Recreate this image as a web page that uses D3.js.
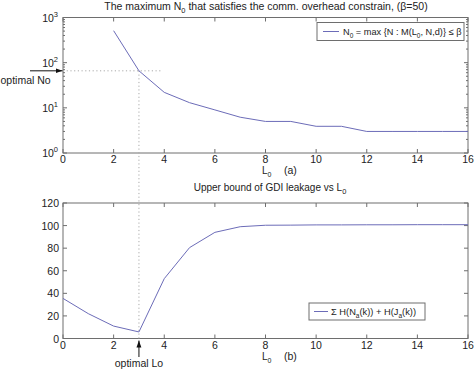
<!DOCTYPE html>
<html><head><meta charset="utf-8">
<script src="https://cdn.jsdelivr.net/npm/d3@7"></script>
<style>body{margin:0;background:#fff}svg{font-family:"Liberation Sans",Arial,sans-serif}</style>
</head><body><svg id="c" width="474" height="370"></svg>
<script>
const topL0 = [2,3,4,5,6,7,8,9,10,11,12,13,14,15,16];
const topN0 = [510,66,22,13,9,6.2,5,5,3.9,3.9,3,3,3,3,3];
const botL0 = [0,1,2,3,4,5,6,7,8,9,10,11,12,13,14,15,16];
const botLeak = [35.5,22,11,5.8,53,80.5,94,99,100.3,100.4,100.6,100.6,100.7,100.7,100.8,100.8,100.8];
const xTicks = [0,2,4,6,8,10,12,14,16];
const topYTicks = [1,10,100,1000];
const botYTicks = [0,20,40,60,80,100,120];
const optL0 = 3, optN0 = 66;

const svg = d3.select("#c");
const lineCol = "#6c6cb8", axCol = "#6e6e6e", txtCol = "#222";
const L = 63, R = 468;
const x = d3.scaleLinear().domain([0,16]).range([L,R]);
const yT = d3.scaleLog().domain([1,1000]).range([153,17.5]);
const yB = d3.scaleLinear().domain([0,120]).range([338.5,203]);

function frame(y, yTicks, minor, fmt) {
  const g = svg.append("g");
  const [y0,y1] = [y.range()[0], y.range()[1]];
  g.append("rect").attr("x",L).attr("y",y1).attr("width",R-L).attr("height",y0-y1)
    .attr("fill","none").attr("stroke",axCol).attr("stroke-width",1);
  const tl = 4;
  xTicks.forEach(t=>{
    g.append("line").attr("x1",x(t)).attr("x2",x(t)).attr("y1",y0).attr("y2",y0-tl).attr("stroke",axCol);
    g.append("line").attr("x1",x(t)).attr("x2",x(t)).attr("y1",y1).attr("y2",y1+tl).attr("stroke",axCol);
    g.append("text").attr("x",x(t)).attr("y",y0+10).attr("text-anchor","middle")
      .attr("font-size",10.5).attr("fill",txtCol).text(t);
  });
  yTicks.forEach(t=>{
    g.append("line").attr("x1",L).attr("x2",L+tl).attr("y1",y(t)).attr("y2",y(t)).attr("stroke",axCol);
    g.append("line").attr("x1",R).attr("x2",R-tl).attr("y1",y(t)).attr("y2",y(t)).attr("stroke",axCol);
    fmt(g,t);
  });
  minor.forEach(t=>{
    g.append("line").attr("x1",L).attr("x2",L+2).attr("y1",y(t)).attr("y2",y(t)).attr("stroke",axCol);
    g.append("line").attr("x1",R).attr("x2",R-2).attr("y1",y(t)).attr("y2",y(t)).attr("stroke",axCol);
  });
}

const minorT = [];
[1,10,100].forEach(d=>{for(let k=2;k<10;k++) minorT.push(d*k);});
frame(yT, topYTicks, minorT, (g,t)=>{
  const e = Math.round(Math.log10(t));
  const tx = g.append("text").attr("x",L-5).attr("y",yT(t)+4).attr("text-anchor","end")
    .attr("font-size",10.5).attr("fill",txtCol);
  tx.append("tspan").text("10");
  tx.append("tspan").attr("dy",-5).attr("font-size",7.5).text(e);
});
frame(yB, botYTicks, [], (g,t)=>{
  g.append("text").attr("x",L-4).attr("y",yB(t)+4).attr("text-anchor","end")
    .attr("font-size",10.5).attr("fill",txtCol).text(t);
});

// guide dotted lines
svg.append("line").attr("x1",x(optL0)).attr("x2",x(optL0)).attr("y1",yT(optN0)).attr("y2",yB(0))
  .attr("stroke","#aaa").attr("stroke-dasharray","1.2,2.5");
svg.append("line").attr("x1",L).attr("x2",x(3.85)).attr("y1",yT(optN0)).attr("y2",yT(optN0))
  .attr("stroke","#aaa").attr("stroke-dasharray","1.2,2.5");

// data lines
svg.append("path").datum(topL0.map((d,i)=>[d,topN0[i]]))
  .attr("d",d3.line().x(d=>x(d[0])).y(d=>yT(d[1])))
  .attr("fill","none").attr("stroke",lineCol).attr("stroke-width",1);
svg.append("path").datum(botL0.map((d,i)=>[d,botLeak[i]]))
  .attr("d",d3.line().x(d=>x(d[0])).y(d=>yB(d[1])))
  .attr("fill","none").attr("stroke",lineCol).attr("stroke-width",1);

// arrows
svg.append("defs").append("marker").attr("id","ah").attr("viewBox","0 0 10 10")
  .attr("refX",10).attr("refY",5).attr("markerWidth",7).attr("markerHeight",7).attr("orient","auto")
  .append("path").attr("d","M0,1.5L10,5L0,8.5z").attr("fill","#111");
svg.append("line").attr("x1",30).attr("x2",L-0.5).attr("y1",yT(optN0)).attr("y2",yT(optN0))
  .attr("stroke","#111").attr("marker-end","url(#ah)");
svg.append("text").attr("x",0.5).attr("y",84).attr("font-size",10.5).attr("fill",txtCol).text("optimal No");
svg.append("line").attr("x1",x(optL0)).attr("x2",x(optL0)).attr("y1",357).attr("y2",yB(0)+2)
  .attr("stroke","#111").attr("marker-end","url(#ah)");
svg.append("text").attr("x",x(optL0)).attr("y",367).attr("text-anchor","middle")
  .attr("font-size",10.5).attr("fill",txtCol).text("optimal Lo");

// titles
let t1 = svg.append("text").attr("x",266).attr("y",10).attr("text-anchor","middle").attr("font-size",10.5).attr("fill",txtCol);
t1.append("tspan").text("The maximum N");
t1.append("tspan").attr("dy",3).attr("font-size",7.5).text("0");
t1.append("tspan").attr("dy",-3).text(" that satisfies the comm. overhead constrain, (β=50)");

let t2 = svg.append("text").attr("x",270).attr("y",191).attr("text-anchor","middle").attr("font-size",10).attr("fill",txtCol);
t2.append("tspan").text("Upper bound of GDI leakage vs L");
t2.append("tspan").attr("dy",3).attr("font-size",7.5).text("0");

// x labels
function xlab(y, tag){
  const t = svg.append("text").attr("x",262).attr("y",y).attr("font-size",10).attr("fill",txtCol);
  t.append("tspan").text("L");
  t.append("tspan").attr("dy",3).attr("font-size",7).text("0");
  svg.append("text").attr("x",284).attr("y",y).attr("font-size",10.5).attr("fill",txtCol).text(tag);
}
xlab(yT.range()[0]+21, "(a)");
xlab(yB.range()[0]+21, "(b)");

// legends
svg.append("rect").attr("x",317).attr("y",22.5).attr("width",147).attr("height",18)
  .attr("fill","#fff").attr("stroke",axCol);
svg.append("line").attr("x1",323).attr("x2",339).attr("y1",31.5).attr("y2",31.5).attr("stroke",lineCol);
let lg = svg.append("text").attr("x",343).attr("y",35).attr("font-size",9.2).attr("fill",txtCol);
lg.append("tspan").text("N");
lg.append("tspan").attr("dy",3).attr("font-size",6.5).text("0");
lg.append("tspan").attr("dy",-3).text(" = max {N : M(L");
lg.append("tspan").attr("dy",3).attr("font-size",6.5).text("0");
lg.append("tspan").attr("dy",-3).text(", N,d)} ≤ β");

svg.append("rect").attr("x",309).attr("y",303).attr("width",116).attr("height",17)
  .attr("fill","#fff").attr("stroke",axCol);
svg.append("line").attr("x1",314).attr("x2",328).attr("y1",311.5).attr("y2",311.5).attr("stroke",lineCol);
let lg2 = svg.append("text").attr("x",331).attr("y",315).attr("font-size",9.3).attr("fill",txtCol);
lg2.append("tspan").text("Σ H(N");
lg2.append("tspan").attr("dy",3).attr("font-size",6.5).text("a");
lg2.append("tspan").attr("dy",-3).text("(k)) + H(J");
lg2.append("tspan").attr("dy",3).attr("font-size",6.5).text("a");
lg2.append("tspan").attr("dy",-3).text("(k))");
</script></body></html>
